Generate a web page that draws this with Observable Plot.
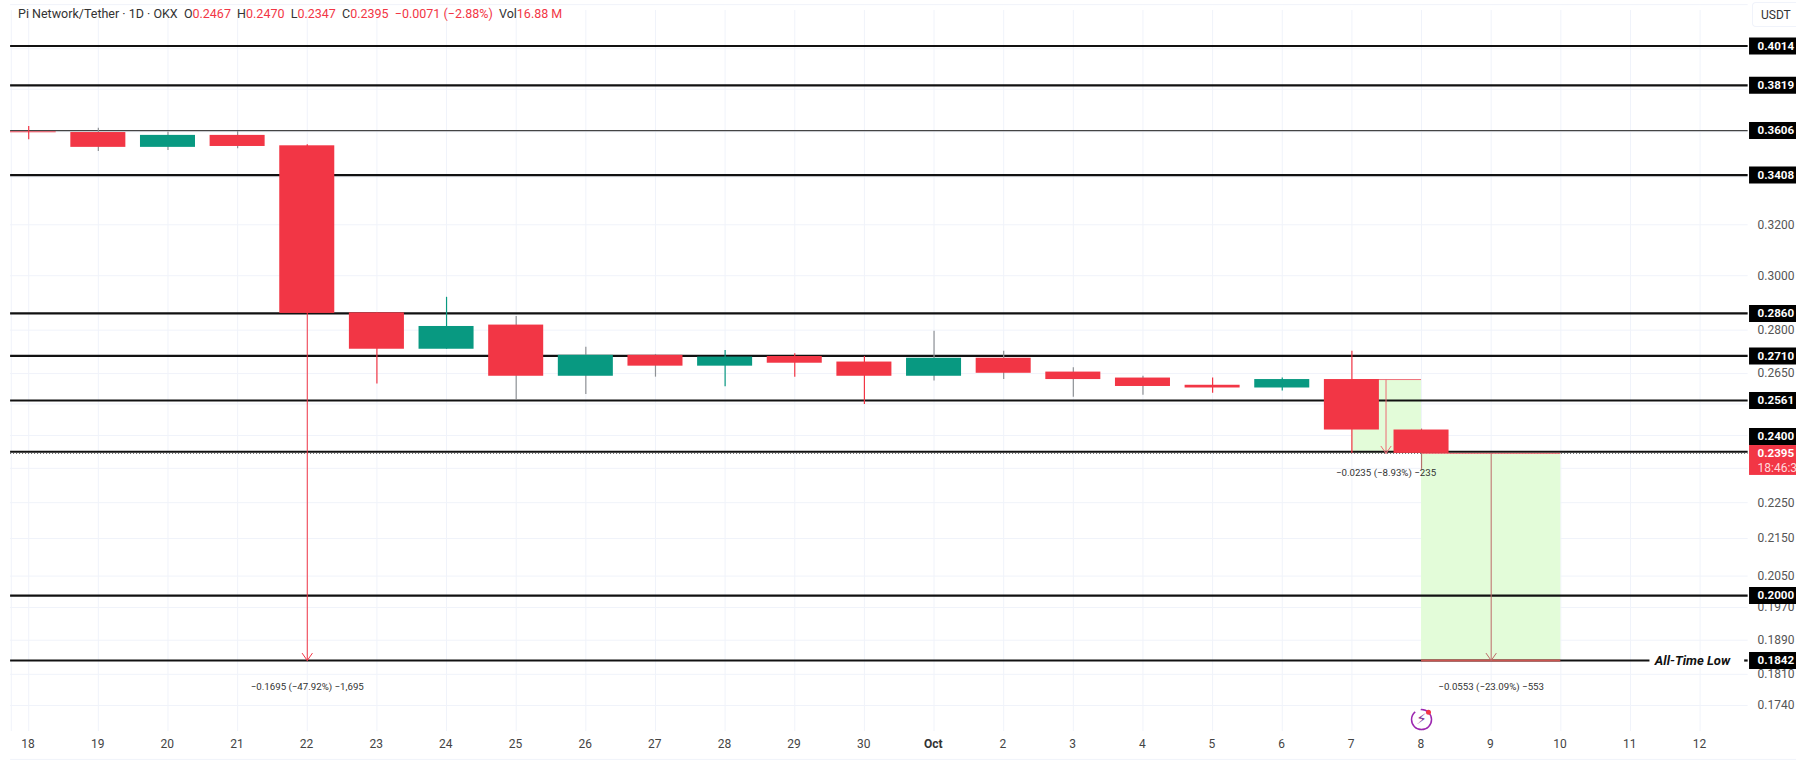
<!DOCTYPE html>
<html>
<head>
<meta charset="utf-8">
<script src="https://cdn.jsdelivr.net/npm/d3@7"></script>
<script src="https://cdn.jsdelivr.net/npm/@observablehq/plot@0.6"></script>
<style>
html,body{margin:0;padding:0;background:#fff;overflow:hidden}
#wrap{position:relative;width:1796px;height:764px;font-family:Roboto,sans-serif}
#legend{position:absolute;left:18px;top:5px;font-size:12.5px;line-height:17px;color:#333;white-space:pre}
#legend b{font-weight:400;color:#f23645}
#unit{position:absolute;left:1752px;top:2px;width:44px;height:25px;border:1px solid #f0f3fa;border-right:none;border-radius:4px 0 0 4px;font-size:12px;line-height:25px;color:#333;text-indent:8px;box-sizing:border-box}
</style>
</head>
<body>
<div id="wrap">
<div id="chart"></div>
<div id="legend">Pi Network/Tether · 1D · OKX  O<b>0.2467</b>  H<b>0.2470</b>  L<b>0.2347</b>  C<b>0.2395</b>  <b>−0.0071 (−2.88%)</b>  Vol<b>16.88 M</b></div>
<div id="unit">USDT</div>
</div>
<script>
const dayLabels = ["18","19","20","21","22","23","24","25","26","27","28","29","30","Oct","2","3","4","5","6","7","8","9","10","11","12"];
const openP  = [.3600,.3597,.3530,.3584,.3537,.2862,.2733,.2818,.2641,.2712,.2675,.2708,.2689,.2641,.2702,.2655,.2635,.2611,.2602,.2630,.2467];
const closeP = [.3596,.3530,.3584,.3534,.2860,.2733,.2813,.2641,.2712,.2675,.2706,.2685,.2641,.2702,.2651,.2630,.2607,.2602,.2630,.2467,.2395];
const highP  = [.3625,.3617,.3599,.3602,.3542,.2862,.2919,.2849,.2740,.2715,.2729,.2717,.2708,.2796,.2726,.2670,.2641,.2635,.2635,.2726,.2470];
const lowP   = [.3564,.3512,.3516,.3524,.2860,.2615,.2733,.2564,.2581,.2638,.2606,.2638,.2548,.2625,.2630,.2572,.2578,.2585,.2592,.2395,.2347];
const wickTone = ["r","g","g","g","r","r","t","g","g","g","t","r","r","g","g","g","g","r","t","r","b"];
const wickColor = {r:"#f23645", t:"#089981", g:"#8f9296", b:"#b5736c"};
const candles = openP.map((o,i)=>({i,o,c:closeP[i],h:highP[i],l:lowP[i],w:wickColor[wickTone[i]]}));

const levels = [.4014,.3819,.3606,.3408,.2860,.2710,.2561,.2400,.2000,.1842];
const levelWeight = [2.2,2.2,1.3,2.2,2.2,2.2,2.2,2.2,2.2,2.2];
const levelLabelAt = [.4014,.3819,.3606,.3408,.2860,.2710,.2561,.2447,.2000,.1842];
const lastPrice = .2395;
const yTicks = [.32,.30,.28,.265,.225,.215,.205,.197,.189,.181,.174];
const yGrid = [.423,.40,.38,.36,.34,.32,.30,.28,.265,.255,.245,.235,.225,.215,.205,.197,.189,.181,.174];
const xGrid = [-0.25].concat(d3.range(0,25));

const boxes = [
 {x1:19,x2:20,y1:.2630,y2:.2395},
 {x1:20,x2:22,y1:.2395,y2:.1842}
];
const arrows = [
 {x:4,y1:.3537,y2:.1842,s:"#f23645",text:"−0.1695 (−47.92%) −1,695",ty:.1782},
 {x:19.49,y1:.2630,y2:.2395,s:"#ee6b75",text:"−0.0235 (−8.93%) −235",ty:.2338},
 {x:21,y1:.2395,y2:.1842,s:"#bd6a68",text:"−0.0553 (−23.09%) −553",ty:.1782}
];
const L=-0.26, R=24.69, AL=24.71, AR=25.4;

const plot = Plot.plot({
  width:1796, height:764,
  marginTop:10, marginLeft:10, marginRight:48, marginBottom:33,
  style:{fontFamily:"Roboto,sans-serif",fontSize:"12px",background:"#fff"},
  x:{type:"linear",domain:[0,24],range:[28.2,1699.6],axis:null},
  y:{type:"log",domain:[.4014,.1842],range:[45.5,660],axis:null},
  marks:[
    Plot.ruleX(xGrid,{x:d=>d,stroke:"#f0f3fa",strokeWidth:1}),
    Plot.ruleY(yGrid,{y:d=>d,x1:L,x2:R,stroke:"#f0f3fa",strokeWidth:1}),
    Plot.ruleY([.1625],{y:d=>d,x1:L,x2:AR,stroke:"#f0f3fa",strokeWidth:1}),
    Plot.rect(boxes,{x1:"x1",x2:"x2",y1:"y1",y2:"y2",fill:"#e3fcd9"}),
    levels.slice(0,-1).map((v,i)=>Plot.ruleY([v],{x1:L,x2:R,stroke:i===2?"#444":"#111",strokeWidth:levelWeight[i]})),
    Plot.ruleY([.1842],{x1:L,x2:23.28,stroke:"#111",strokeWidth:2.2}),
    Plot.ruleY([.1842],{x1:24.64,x2:R,stroke:"#111",strokeWidth:2.2}),
    Plot.ruleY([lastPrice],{x1:L,x2:R,stroke:"#555",strokeWidth:1,strokeDasharray:"1,2"}),
    boxes.map(b=>Plot.ruleY([b.y1],{x1:b.x1,x2:b.x2,stroke:"#f0707a",strokeWidth:1})),
    Plot.ruleY([.1842],{x1:20,x2:22,stroke:"#c9544f",strokeWidth:2}),
    Plot.arrow(arrows,{x:"x",y1:"y1",y2:"y2",stroke:"s",strokeWidth:1,headLength:13,headAngle:70}),
    Plot.text(arrows,{x:"x",y:"ty",text:"text",fill:"#333",fontSize:9.7}),
    Plot.ruleX(candles,{x:"i",y1:"h",y2:"l",stroke:"w",strokeWidth:1.2,clip:"frame"}),
    Plot.rect(candles,{x1:d=>d.i-.395,x2:d=>d.i+.395,y1:"o",y2:"c",fill:d=>d.c<d.o?"#f23645":"#089981",clip:"frame"}),
    Plot.text(["All-Time Low"],{x:23.35,y:.1842,text:d=>d,textAnchor:"start",fontWeight:"bold",fontStyle:"italic",fontSize:13,fill:"#111",letterSpacing:"0.4px"}),
    Plot.axisY({anchor:"right",ticks:yTicks,tickFormat:".4f",tickSize:0,tickPadding:9,fill:"#555",fontSize:12,label:null}),
    Plot.axisX({anchor:"bottom",ticks:d3.range(0,25).filter(i=>i!==13),tickFormat:i=>dayLabels[i],tickSize:0,tickPadding:8,fill:"#444",fontSize:12,label:null,dx:-0.7}),
    Plot.axisX({anchor:"bottom",ticks:[13],tickFormat:i=>dayLabels[i],tickSize:0,tickPadding:8,fill:"#333",fontSize:12,fontWeight:"bold",label:null,dx:-0.7}),
    Plot.ruleY(levelLabelAt,{y:d=>d,x1:AL,x2:AR,stroke:"#000",strokeWidth:17}),
    Plot.text(levelLabelAt,{y:d=>d,x:24.825,text:(d,i)=>levels[i].toFixed(4),textAnchor:"start",fill:"#fff",fontWeight:"bold",fontSize:11.6}),
    Plot.rect([{a:.2419,b:.2329}],{x1:AL,x2:AR,y1:"a",y2:"b",fill:"#f23645"}),
    Plot.text([lastPrice],{y:d=>d,x:24.825,text:d=>d.toFixed(4),textAnchor:"start",fill:"#fff",fontWeight:"bold",fontSize:11.6}),
    Plot.text(["18:46:3"],{y:.2352,x:24.825,text:d=>d,textAnchor:"start",fill:"#ffd9dc",fontSize:12}),
    Plot.dot([{x:20,y:.1709}],{x:"x",y:"y",r:10,stroke:"#9c27b0",strokeWidth:1.5,strokeDasharray:"40,6",fill:"#fff"}),
    Plot.text(["⚡"],{x:20,y:.1709,text:d=>d,fill:"#7d3a9a",fontSize:15,fontFamily:"DejaVu Sans"}),
    Plot.dot([{x:20.1,y:.1725}],{x:"x",y:"y",r:2.5,fill:"#f23645"})
  ]
});
document.getElementById("chart").appendChild(plot);
</script>
</body>
</html>
